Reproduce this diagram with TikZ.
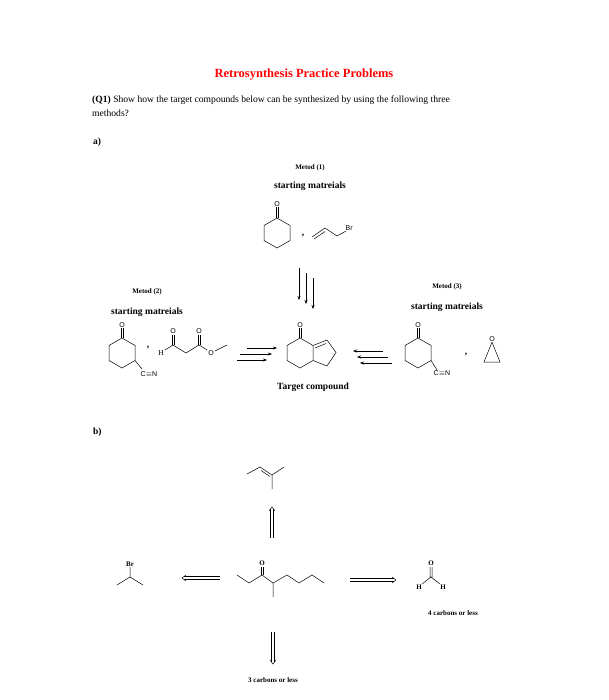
\documentclass[tikz,border=0pt]{standalone}
\usepackage{fontspec}
\setmainfont{Liberation Serif}
\newfontfamily\chemsf{Liberation Sans}
\usetikzlibrary{arrows.meta}
\begin{document}
\begin{tikzpicture}[x=1pt,y=-1pt,
  bond/.style={line width=0.5pt},
  lbl/.style={inner sep=0.5pt,font=\chemsf\fontsize{7}{8}\selectfont},
  hd/.style={font=\bfseries\fontsize{9.5}{11}\selectfont},
  sm/.style={font=\bfseries\fontsize{7}{8}\selectfont},
  sarr/.style={line width=0.5pt,-{Stealth[length=4pt,width=3pt]}},
  dline/.style={line width=0.5pt}]
\useasboundingbox (0,0) rectangle (608,700);
\node[font=\bfseries\fontsize{12.5}{14}\selectfont,text=red] (title) at (304,75) {Retrosynthesis Practice Problems};
\node[anchor=west,font=\fontsize{9.6}{11}\selectfont,inner sep=0] (q1) at (92,100) {\textbf{(Q1)} Show how the target compounds below can be synthesized by using the following three};
\node[anchor=west,font=\fontsize{9.6}{11}\selectfont,inner sep=0] (q1b) at (92,113) {methods?};
\node[anchor=west,hd,inner sep=0] (a) at (93,142) {a)};
% Method 1
\node[sm] (m1) at (310,168) {Metod (1)};
\node[hd] (s1) at (310,186) {starting matreials};
\draw[bond] (277,218)--(290,225.5)--(290,240.5)--(277,248)--(264,240.5)--(264,225.5)--cycle;
\node[lbl] (o1) at (277,204) {O};
\draw[bond] ([xshift=-1pt]o1.south)--(276,218) ([xshift=1pt]o1.south)--(278,218);
\node[hd] (c1) at (303,236) {,};
\draw[bond] (312,237)--(325,228)--(337,236)--(346,231);
\draw[bond] (314,239)--(325,231.5);
\node[lbl,anchor=west] (br1) at (345,228) {Br};
\coordinate (d1a) at (299,268); \coordinate (d1b) at (299,300);
\coordinate (d2a) at (306,273); \coordinate (d2b) at (306,304);
\coordinate (d3a) at (313,278); \coordinate (d3b) at (313,309);
\draw[sarr] (d1a)--(d1b); \draw[sarr] (d2a)--(d2b); \draw[sarr] (d3a)--(d3b);
% Method 2
\node[sm] (m2) at (147,292) {Metod (2)};
\node[hd] (s2) at (147,312) {starting matreials};
\draw[bond] (122,338)--(135,345.5)--(135,360.5)--(122,368)--(109,360.5)--(109,345.5)--cycle;
\node[lbl] (o2) at (122,325) {O};
\draw[bond] ([xshift=-1pt]o2.south)--(121,338) ([xshift=1pt]o2.south)--(123,338);
\node[lbl,anchor=west] (cn2) at (140,374) {C$\equiv$N};
\draw[bond] (135,360.5)--(142,369);
\node[hd] (c2) at (148,348) {,};
\node[font=\fontsize{7.5}{8}\selectfont,inner sep=0.5pt] (h2) at (161,353) {H};
\draw[bond] (165,350)--(173,345)--(186,353)--(199,345)--(207,350);
\node[lbl] (o2a) at (173,331) {O};
\node[lbl] (o2b) at (199,331) {O};
\draw[bond] (172,335)--(172,345) (174,335)--(174,345) (198,335)--(198,345) (200,335)--(200,345);
\node[lbl] (o2c) at (211,353) {O};
\draw[bond] (215,351)--(227,345);
\draw[sarr] (247,348)--(277,348);
\draw[sarr] (240,354)--(272,354);
\draw[sarr] (237,360)--(267,360);
% Target
\draw[bond] (300,338)--(313,345.5)--(313,360.5)--(300,368)--(287,360.5)--(287,345.5)--cycle;
\node[lbl] (ot) at (300,325) {O};
\draw[bond] ([xshift=-1pt]ot.south)--(299,338) ([xshift=1pt]ot.south)--(301,338);
\draw[bond] (313,345.5)--(327,340)--(336,352.5)--(327,366)--(313,360.5);
\draw[bond] (315,348)--(326,343.5);
\node[hd] (tc) at (313,387) {Target compound};
\draw[sarr] (383,351)--(353,351);
\draw[sarr] (388,357)--(357,357);
\draw[sarr] (392,363)--(360,363);
% Method 3
\node[sm] (m3) at (447,287) {Metod (3)};
\node[hd] (s3) at (447,307) {starting matreials};
\draw[bond] (418,338)--(431,345.5)--(431,360.5)--(418,368)--(405,360.5)--(405,345.5)--cycle;
\node[lbl] (o3) at (418,325) {O};
\draw[bond] ([xshift=-1pt]o3.south)--(417,338) ([xshift=1pt]o3.south)--(419,338);
\draw[bond] (431,360.5)--(437,370);
\node[lbl,anchor=north west] (cn3) at (433,370) {C$\equiv$N};
\node[hd] (c3) at (466,355) {,};
\node[lbl] (o3e) at (492,339) {O};
\draw[bond] (o3e.south)--(484,362)--(500,362)--(o3e.south);
% b
\node[anchor=west,hd,inner sep=0] (b) at (93,432) {b)};
\draw[bond] (247,474)--(260,467)--(272,475)--(284,467) (272,475)--(272,489);
\draw[bond] (261,470.5)--(270,476.5);
% up double arrow
\coordinate (ua) at (272,538); \coordinate (ub) at (272,507);
\draw[dline] ([xshift=-1.3pt]ua)--([xshift=-1.3pt,yshift=-2pt]ub) ([xshift=1.3pt]ua)--([xshift=1.3pt,yshift=-2pt]ub);
\draw[dline] ([xshift=-3pt,yshift=-4pt]ub)--(ub)--([xshift=3pt,yshift=-4pt]ub);
\draw[bond] (237,575)--(249,583)--(262,575)--(273,583)--(287,575)--(299,583)--(312,575)--(324,583) (273,583)--(273,597);
\node[lbl,font=\bfseries\fontsize{7}{8}\selectfont] (ob) at (262,563) {O};
\draw[bond] (261,567)--(261,575) (263,567)--(263,575);
% left double arrow
\coordinate (la) at (220,578); \coordinate (lb) at (182,578);
\draw[dline] ([yshift=-1.3pt]la)--([xshift=2pt,yshift=-1.3pt]lb) ([yshift=1.3pt]la)--([xshift=2pt,yshift=1.3pt]lb);
\draw[dline] ([xshift=4pt,yshift=-3pt]lb)--(lb)--([xshift=4pt,yshift=3pt]lb);
\node[lbl,font=\bfseries\fontsize{7}{8}\selectfont] (br) at (130,564) {Br};
\draw[bond] (br.south)--(130,577) (117,585)--(130,577)--(143,585);
% right double arrow
\coordinate (ra) at (350,580); \coordinate (rb) at (396,580);
\draw[dline] ([yshift=-1.3pt]ra)--([xshift=-2pt,yshift=-1.3pt]rb) ([yshift=1.3pt]ra)--([xshift=-2pt,yshift=1.3pt]rb);
\draw[dline] ([xshift=-4pt,yshift=-3pt]rb)--(rb)--([xshift=-4pt,yshift=3pt]rb);
\node[lbl,font=\bfseries\fontsize{7}{8}\selectfont] (of) at (431,563) {O};
\draw[bond] (430,567)--(430,577) (432,567)--(432,577) (422,584)--(431,577)--(440,584);
\node[lbl,font=\bfseries\fontsize{7}{8}\selectfont] (h1) at (419,587) {H};
\node[lbl,font=\bfseries\fontsize{7}{8}\selectfont] (h3) at (443,587) {H};
\node[sm] (c4) at (453,613) {4 carbons or less};
% down double arrow
\coordinate (da) at (273,632); \coordinate (db) at (273,664);
\draw[dline] ([xshift=-1.3pt]da)--([xshift=-1.3pt,yshift=2pt]db) ([xshift=1.3pt]da)--([xshift=1.3pt,yshift=2pt]db);
\draw[dline] ([xshift=-3pt,yshift=4pt]db)--(db)--([xshift=3pt,yshift=4pt]db);
\node[sm] (c5) at (273,680) {3 carbons or less};
\end{tikzpicture}
\end{document}
